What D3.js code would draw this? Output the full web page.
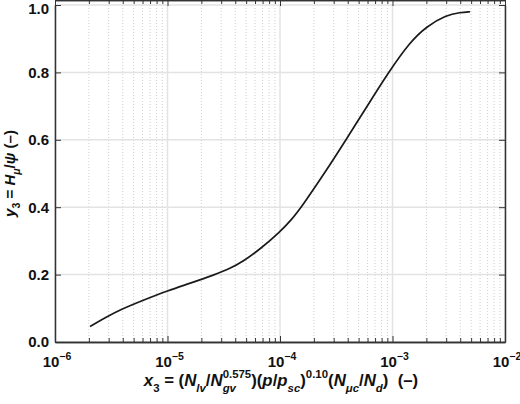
<!DOCTYPE html>
<html>
<head>
<meta charset="utf-8">
<title>y3 vs x3</title>
<script src="https://d3js.org/d3.v7.min.js"></script>
<style>
  body { margin: 0; background: #fff; }
  text { font-family: "Liberation Sans", Arial, sans-serif; font-weight: bold; fill: #111; }
</style>
</head>
<body>
<div id="chart"></div>
<script>
// curve
var xVals = [2.05e-6, 2.8e-6, 3.8e-6, 6.3e-6, 1.0e-5, 1.58e-5, 2.64e-5, 3.55e-5, 4.7e-5, 6.8e-5, 1.0e-4,
             1.26e-4, 1.58e-4, 2.5e-4, 3.86e-4, 6.3e-4, 9.2e-4, 1.43e-3, 2.0e-3, 3.0e-3, 4.0e-3, 4.9e-3];
var yVals = [0.046, 0.072, 0.096, 0.126, 0.152, 0.174, 0.200, 0.217, 0.239, 0.278, 0.327,
             0.362, 0.404, 0.502, 0.600, 0.713, 0.800, 0.890, 0.936, 0.970, 0.978, 0.980];
var xDomain = [1e-6, 1e-2];
var yTicks = [0, 0.2, 0.4, 0.6, 0.8, 1.0];
var xExps = [-6, -5, -4, -3, -2];

var width = 520, height = 404;
var m = {left: 55, right: 15, top: 5, bottom: 62};
var pw = width - m.left - m.right, ph = height - m.top - m.bottom;

var svg = d3.select("#chart").append("svg")
  .attr("width", width)
  .attr("height", height);

var x = d3.scaleLog().domain(xDomain).range([m.left, m.left + pw]);
var y = d3.scaleLinear().domain([0, 1]).range([m.top + ph, m.top]);

// minor positions 2..9 x 10^k
var minor = [];
for (var k = -6; k < -2; k++) {
  for (var j = 2; j < 10; j++) minor.push(j * Math.pow(10, k));
}
var major = xExps.map(function (e) { return Math.pow(10, e); });

var grid = svg.append("g");
grid.selectAll(".mn").data(minor).enter().append("line")
  .attr("x1", function (d) { return x(d); }).attr("x2", function (d) { return x(d); })
  .attr("y1", m.top).attr("y2", m.top + ph)
  .attr("stroke", "#cfcfcf").attr("stroke-width", 1).attr("stroke-dasharray", "1,2");
grid.selectAll(".mj").data(major).enter().append("line")
  .attr("x1", function (d) { return x(d); }).attr("x2", function (d) { return x(d); })
  .attr("y1", m.top).attr("y2", m.top + ph)
  .attr("stroke", "#e3e3e3").attr("stroke-width", 1.5);
grid.selectAll(".yg").data(yTicks).enter().append("line")
  .attr("x1", m.left).attr("x2", m.left + pw)
  .attr("y1", function (d) { return y(d); }).attr("y2", function (d) { return y(d); })
  .attr("stroke", "#e3e3e3").attr("stroke-width", 1.5);

// curve
var pts = xVals.map(function (v, i) { return [v, yVals[i]]; });
var line = d3.line()
  .x(function (d) { return x(d[0]); })
  .y(function (d) { return y(d[1]); })
  .curve(d3.curveBasis);
svg.append("path").datum(pts)
  .attr("d", line)
  .attr("fill", "none")
  .attr("stroke", "#1a1a1a")
  .attr("stroke-width", 1.7);

// axes with inward ticks, box on all sides
function tickAxis(axis, tr) {
  var g = svg.append("g").attr("transform", tr).call(axis);
  g.selectAll("text").remove();
  g.select(".domain").attr("stroke", "#333").attr("stroke-width", 1.5);
  g.selectAll(".tick line").attr("stroke", "#333").attr("stroke-width", 1);
  return g;
}
var bot = "translate(0," + (m.top + ph) + ")", top = "translate(0," + m.top + ")";
tickAxis(d3.axisBottom(x).tickValues(minor).tickSize(-4).tickSizeOuter(0), bot);
tickAxis(d3.axisBottom(x).tickValues(major).tickSize(-6).tickSizeOuter(0), bot);
tickAxis(d3.axisTop(x).tickValues(minor).tickSize(-4).tickSizeOuter(0), top);
tickAxis(d3.axisTop(x).tickValues(major).tickSize(-6).tickSizeOuter(0), top);
tickAxis(d3.axisLeft(y).tickValues(yTicks).tickSize(-6).tickSizeOuter(0), "translate(" + m.left + ",0)");
tickAxis(d3.axisRight(y).tickValues(yTicks).tickSize(-6).tickSizeOuter(0), "translate(" + (m.left + pw) + ",0)");

// y tick labels (top one nudged down so it stays inside the page)
svg.append("g").selectAll("text").data(yTicks).enter().append("text")
  .attr("x", m.left - 6).attr("y", function (d) { return Math.max(y(d), 8.5); })
  .attr("dy", "0.36em").attr("text-anchor", "end")
  .attr("font-size", 15)
  .text(function (d) { return d3.format(".1f")(d); });

// rich text: pieces placed one after another, measured as they go
function rich(parent, pieces, size, ratio) {
  var g = parent.append("g"), cx = 0, stackW = 0;
  pieces.forEach(function (p) {
    var fs = p.pos ? size * ratio : size;
    var dy = p.pos === "sub" ? size * 0.35 : p.pos === "sup" ? -size * 0.45 : 0;
    var t = g.append("text").attr("x", cx).attr("y", dy)
      .attr("font-size", fs)
      .style("font-style", p.it ? "italic" : "normal")
      .style("white-space", "pre")
      .text(p.t);
    var w = t.node().getComputedTextLength();
    if (p.stack) { stackW = w; return; }
    cx += Math.max(w, stackW);
    stackW = 0;
  });
  return {g: g, w: cx};
}

xExps.forEach(function (e) {
  var r = rich(svg, [{t: "10"}, {t: "\u2212" + (-e), pos: "sup"}], 15, 0.7);
  r.g.attr("transform", "translate(" + (x(Math.pow(10, e)) - r.w / 2 + 2) + "," + (m.top + ph + 25) + ")");
});

var xt = rich(svg, [
  {t: "x", it: 1}, {t: "3", pos: "sub"}, {t: " = ("}, {t: "N", it: 1}, {t: "lv", it: 1, pos: "sub"},
  {t: "/"}, {t: "N", it: 1}, {t: "gv", it: 1, pos: "sub", stack: 1}, {t: "0.575", pos: "sup"},
  {t: ")("}, {t: "p", it: 1}, {t: "/"}, {t: "p", it: 1}, {t: "sc", it: 1, pos: "sub"}, {t: ")"},
  {t: "0.10", pos: "sup"}, {t: "("}, {t: "N", it: 1}, {t: "\u03bcc", it: 1, pos: "sub"}, {t: "/"},
  {t: "N", it: 1}, {t: "d", it: 1, pos: "sub"}, {t: ")  (\u2013)"}
], 16.8, 0.68);
xt.g.attr("transform", "translate(" + (m.left + pw / 2 - xt.w / 2 + 1) + "," + (height - 18) + ")");

var yt = rich(svg, [
  {t: "y", it: 1}, {t: "3", pos: "sub"}, {t: " = "}, {t: "H", it: 1}, {t: "\u03bc", it: 1, pos: "sub"},
  {t: "/"}, {t: "\u03c8", it: 1}, {t: " (\u2013)"}
], 15, 0.7);
yt.g.attr("transform", "translate(15," + (m.top + ph / 2 + yt.w / 2) + ") rotate(-90)");
</script>
</body>
</html>
